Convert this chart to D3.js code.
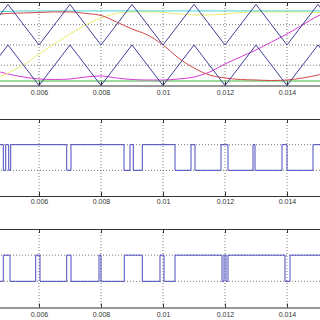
<!DOCTYPE html>
<html><head><meta charset="utf-8">
<script src="https://cdn.jsdelivr.net/npm/d3@7"></script>
<style>html,body{margin:0;padding:0;background:#fff;overflow:hidden}</style>
</head><body>
<svg id="c" width="320" height="320"></svg>
<script>
// ---- data (time in ms) ----
const xTicks = [0.006, 0.008, 0.01, 0.012, 0.014];
const xTickLabels = ["0.006", "0.008", "0.01", "0.012", "0.014"];

// carrier extremes (triangle corners), in ms
const carrierT = [4, 5, 6, 7, 8, 9, 10, 11, 12, 13, 14, 15, 16];
const carrierUpper = [0, 1, 0, 1, 0, 1, 0, 1, 0, 1, 0, 1, 0];
const carrierLower = [-1, 0, -1, 0, -1, 0, -1, 0, -1, 0, -1, 0, -1];

// reference signals sampled every 0.5 ms
const refT = [4.5, 5, 5.5, 6, 6.5, 7, 7.5, 8, 8.5, 9, 9.5, 10, 10.5, 11, 11.5, 12, 12.5, 13, 13.5, 14, 14.5, 15, 15.5];
const refRed = [0.753, 0.778, 0.79, 0.802, 0.815, 0.815, 0.778, 0.728, 0.568, 0.395, 0.247, 0.0, -0.321, -0.568, -0.741, -0.815, -0.852, -0.864, -0.877, -0.864, -0.815, -0.741, -0.642];
const refYellow = [-0.864, -0.691, -0.494, -0.222, 0.025, 0.272, 0.494, 0.667, 0.778, 0.815, 0.815, 0.802, 0.765, 0.741, 0.741, 0.765, 0.802, 0.815, 0.815, 0.815, 0.815, 0.802, 0.79];
const refCyan = [0.815, 0.827, 0.84, 0.84, 0.84, 0.84, 0.84, 0.84, 0.84, 0.84, 0.84, 0.84, 0.84, 0.84, 0.84, 0.84, 0.84, 0.84, 0.84, 0.84, 0.84, 0.84, 0.84];
const refMagenta = [-0.617, -0.716, -0.79, -0.84, -0.852, -0.84, -0.79, -0.765, -0.815, -0.852, -0.864, -0.864, -0.84, -0.79, -0.667, -0.469, -0.296, -0.123, 0.074, 0.272, 0.494, 0.716, 0.864];
const refGreen = [-0.889, -0.889, -0.889, -0.889, -0.889, -0.889, -0.889, -0.889, -0.889, -0.889, -0.889, -0.889, -0.889, -0.889, -0.889, -0.889, -0.889, -0.889, -0.889, -0.889, -0.889, -0.889, -0.889];

// gate signals: start level and switching instants (ms)
const gate1Start = 1;
const gate1Switch = [4.848, 4.926, 5.023, 5.087, 6.894, 7.032, 8.742, 8.935, 9.042, 9.332, 10.387, 10.903, 11.032, 11.871, 12.097, 12.903, 12.968, 13.839, 14.0, 14.839];
const gate2Start = 0;
const gate2Switch = [4.848, 5.065, 5.894, 6.032, 6.894, 7.032, 7.935, 8.0, 8.752, 9.332, 9.903, 10.032, 10.387, 11.903, 11.968, 12.032, 12.097, 13.935, 14.097];

// ---- drawing ----
const svg = d3.select("#c");
svg.append("rect").attr("width", 320).attr("height", 320).attr("fill", "#fff");
const x = d3.scaleLinear().domain([0.004, 0.016]).range([-23, 349]);
const tMin = 0.0040, tMax = 0.0160;

const panels = [
  {top: 2, bottom: 85.5, dom: [-1, 1.06], grid: [-0.5, 0, 0.5], labelY: 92},
  {top: 119, bottom: 196, dom: [-1, 2], grid: [0, 1], labelY: 201.5},
  {top: 229, bottom: 307.5, dom: [-1, 2], grid: [0, 1], labelY: 314}
];
panels.forEach(p => { p.y = d3.scaleLinear().domain(p.dom).range([p.bottom, p.top]); });

const gridStyle = s => s.attr("stroke", "#555").attr("stroke-width", 0.8).attr("stroke-dasharray", "1,2");

panels.forEach((p, i) => {
  const g = svg.append("g");
  // vertical grid
  g.selectAll("line.vg").data(xTicks).join("line")
    .attr("x1", d => x(d)).attr("x2", d => x(d))
    .attr("y1", p.top).attr("y2", p.bottom).call(gridStyle);
  // horizontal grid
  g.selectAll("line.hg").data(p.grid).join("line")
    .attr("x1", x(tMin)).attr("x2", x(tMax))
    .attr("y1", d => p.y(d)).attr("y2", d => p.y(d)).call(gridStyle);
  p.g = g;
});

// panel 1 lines
const p1 = panels[0];
const line1 = d3.line().x(d => x(d[0] / 1000)).y(d => p1.y(d[1]));
const smooth1 = d3.line().x(d => x(d[0] / 1000)).y(d => p1.y(d[1])).curve(d3.curveMonotoneX);
const refs = [
  {v: refGreen, c: "#3cb83c"},
  {v: refMagenta, c: "#d43cd4"},
  {v: refYellow, c: "#ecec70"},
  {v: refCyan, c: "#48d4d4"},
  {v: refRed, c: "#d04848"}
];
refs.forEach(r => {
  p1.g.append("path").attr("d", smooth1(refT.map((t, i) => [t, r.v[i]])))
    .attr("fill", "none").attr("stroke", r.c).attr("stroke-width", 1);
});
[carrierUpper, carrierLower].forEach(cv => {
  p1.g.append("path").attr("d", line1(carrierT.map((t, i) => [t, cv[i]])))
    .attr("fill", "none").attr("stroke", "#3f3f9c").attr("stroke-width", 1);
});

// gate signals
function gatePoints(start, sw) {
  const pts = [[tMin * 1000, start]];
  let lv = start;
  sw.forEach(t => { lv = 1 - lv; pts.push([t, lv]); });
  pts.push([tMax * 1000, lv]);
  return pts;
}
[[panels[1], gate1Start, gate1Switch], [panels[2], gate2Start, gate2Switch]].forEach(([p, s, sw]) => {
  const ln = d3.line().x(d => x(d[0] / 1000)).y(d => p.y(d[1])).curve(d3.curveStepAfter);
  p.g.append("path").attr("d", ln(gatePoints(s, sw)))
    .attr("fill", "none").attr("stroke", "#4b4bc0").attr("stroke-width", 1);
});

// axes box, ticks, labels
panels.forEach((p, i) => {
  const fmt = d => xTickLabels[xTicks.indexOf(d)];
  const gb = svg.append("g").attr("transform", `translate(0,${p.bottom})`)
    .call(d3.axisBottom(x).tickValues(xTicks).tickSize(-4).tickSizeOuter(0).tickFormat(fmt));
  const gt = svg.append("g").attr("transform", `translate(0,${p.top})`)
    .call(d3.axisTop(x).tickValues(xTicks).tickSize(-4).tickSizeOuter(0).tickFormat(""));
  [gb, gt].forEach(a => {
    a.select(".domain").attr("stroke", "#333").attr("stroke-width", 1);
    a.selectAll(".tick line").attr("stroke", "#333");
  });
  gb.selectAll(".tick text").attr("y", null).attr("dy", null)
    .attr("transform", `translate(0,${p.labelY - p.bottom + 2.5})`)
    .attr("font-family", "Liberation Sans, Arial, sans-serif").attr("font-size", 7).attr("fill", "#333");
});
</script>
</body></html>
